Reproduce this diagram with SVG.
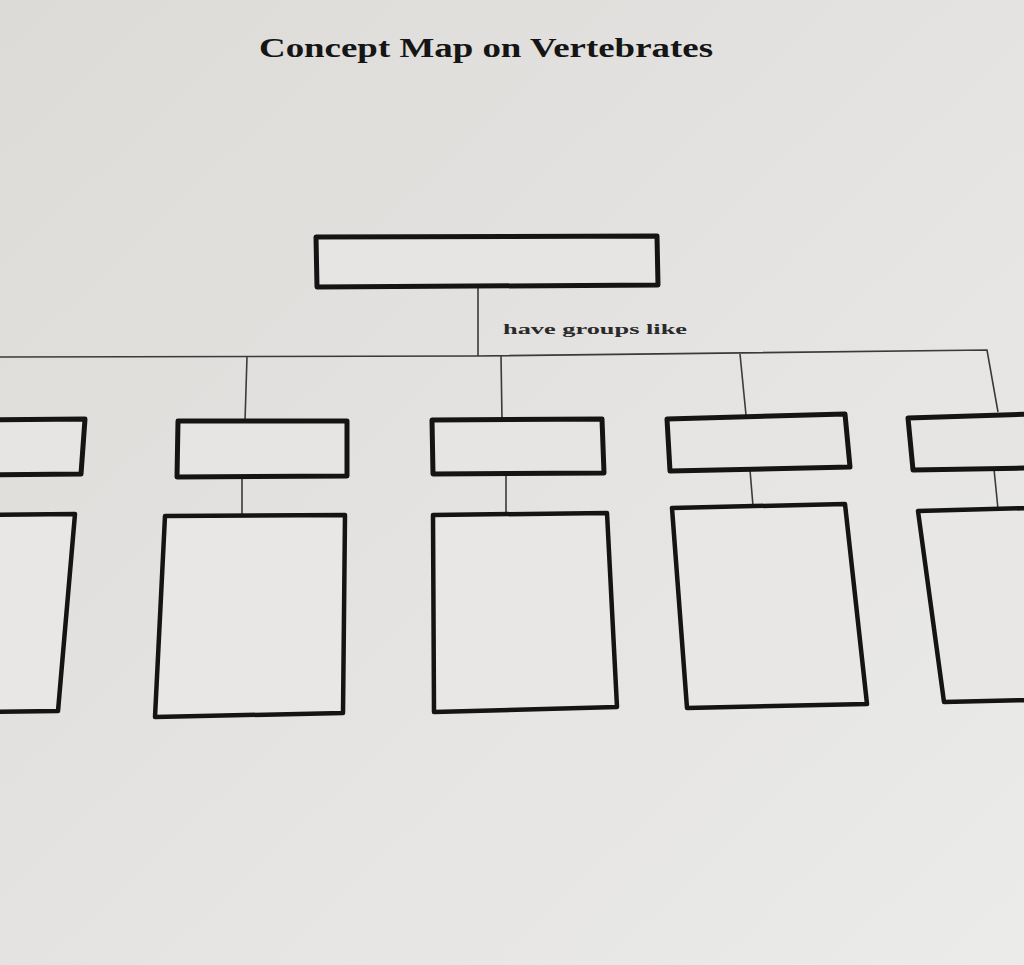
<svg xmlns="http://www.w3.org/2000/svg" width="1024" height="965" viewBox="0 0 1024 965">
  <defs>
    <linearGradient id="paper" x1="0" y1="0" x2="1" y2="1">
      <stop offset="0" stop-color="#dcdbd8"/>
      <stop offset="0.5" stop-color="#e4e3e1"/>
      <stop offset="1" stop-color="#ebebea"/>
    </linearGradient>
    <style>
      .box { fill: #e6e5e3; stroke: #141414; stroke-width: 5; stroke-linejoin: round; }
      .big { fill: #e8e7e5; stroke: #141414; stroke-width: 4.5; stroke-linejoin: round; }
      .conn { fill: none; stroke: #3a3a3a; stroke-width: 1.6; }
      .title { font-family: "Liberation Serif", "DejaVu Serif", serif; font-weight: bold; font-size: 27px; fill: #151515; }
      .label { font-family: "Liberation Serif", "DejaVu Serif", serif; font-weight: bold; font-size: 15px; fill: #2a2a2a; }
    </style>
  </defs>
  <rect width="1024" height="965" fill="url(#paper)"/>

  <text class="title" x="259" y="57" textLength="454" lengthAdjust="spacingAndGlyphs">Concept Map on Vertebrates</text>

  <g id="connectors">
    <line class="conn" x1="478" y1="287" x2="478" y2="356"/>
    <polyline class="conn" points="-2,357 478,356 987,350 998,412"/>
    <line class="conn" x1="247" y1="357" x2="245" y2="421"/>
    <line class="conn" x1="501" y1="356" x2="502" y2="420"/>
    <line class="conn" x1="740" y1="354" x2="746" y2="415"/>
    <line class="conn" x1="242" y1="477" x2="242" y2="515"/>
    <line class="conn" x1="506" y1="474" x2="506" y2="513"/>
    <line class="conn" x1="750" y1="470" x2="753" y2="506"/>
    <line class="conn" x1="994" y1="469" x2="998" y2="509"/>
    <text class="label" x="503" y="334" textLength="184" lengthAdjust="spacingAndGlyphs">have  groups like</text>
  </g>

  <g id="top-node">
    <polygon class="box" points="316,237 657,236 658,285 317,287"/>
  </g>

  <g id="group-1">
    <polygon class="box" points="-20,420 85,419 81,474 -20,475"/>
  </g>
  <g id="group-2">
    <polygon class="box" points="178,421 347,421 347,476 177,477"/>
  </g>
  <g id="group-3">
    <polygon class="box" points="432,420 602,419 604,473 433,474"/>
  </g>
  <g id="group-4">
    <polygon class="box" points="667,419 845,414 850,467 670,471"/>
  </g>
  <g id="group-5">
    <polygon class="box" points="908,418 1030,414 1030,468 913,470"/>
  </g>

  <g id="detail-1">
    <polygon class="big" points="-20,515 75,514 58,711 -20,712"/>
  </g>
  <g id="detail-2">
    <polygon class="big" points="165,516 345,515 343,713 155,717"/>
  </g>
  <g id="detail-3">
    <polygon class="big" points="433,515 607,513 617,707 434,712"/>
  </g>
  <g id="detail-4">
    <polygon class="big" points="672,508 845,504 867,704 687,708"/>
  </g>
  <g id="detail-5">
    <polygon class="big" points="918,511 1030,508 1030,700 944,702"/>
  </g>
</svg>
